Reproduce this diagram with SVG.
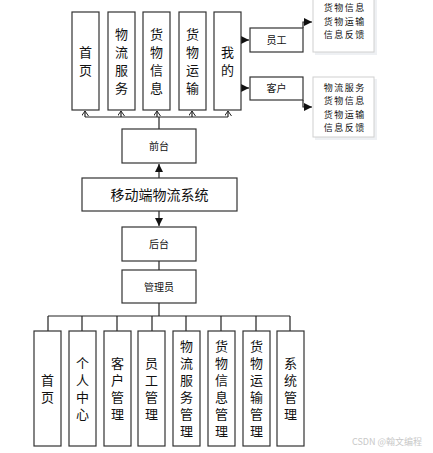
<svg xmlns="http://www.w3.org/2000/svg" width="433" height="453" viewBox="0 0 433 453">
<defs>
<style>
.box{fill:#fff;stroke:#333;stroke-width:1.2}
.info{fill:#fff;stroke:#d0d0d0;stroke-width:1}
.sh{fill:#eef0f3;stroke:none}
.ln{fill:none;stroke:#222;stroke-width:1.2}
.t{font-family:"Noto Sans CJK SC","Liberation Sans",sans-serif;fill:#111;text-anchor:middle}
.vt{font-size:13px;writing-mode:vertical-rl;letter-spacing:5px}
.vb{font-size:13px;writing-mode:vertical-rl;letter-spacing:4px}
.s{font-size:10px}
.i{font-size:9px;letter-spacing:1.5px}
.wm{font-family:"Noto Sans CJK SC","Liberation Sans",sans-serif;font-size:9px;fill:#c8c8c8}
</style>
<marker id="fa" markerUnits="userSpaceOnUse" markerWidth="10" markerHeight="10" refX="8" refY="4" orient="auto">
<path d="M0,0 L8,4 L0,8 Z" fill="#111"/>
</marker>
<marker id="oa" markerUnits="userSpaceOnUse" markerWidth="8" markerHeight="8" refX="5" refY="3.5" orient="auto">
<path d="M0,0 L5,3.5 L0,7" fill="none" stroke="#222" stroke-width="1"/>
</marker>
</defs>
<rect width="433" height="453" fill="#fff"/>

<g id="connectors">
<path class="ln" d="M85,117 H228"/>
<path class="ln" d="M85,117 V111" marker-end="url(#oa)"/>
<path class="ln" d="M121,117 V111" marker-end="url(#oa)"/>
<path class="ln" d="M157,117 V111" marker-end="url(#oa)"/>
<path class="ln" d="M192,117 V111" marker-end="url(#oa)"/>
<path class="ln" d="M228,117 V111" marker-end="url(#oa)"/>
<path class="ln" d="M159,117 V129"/>
<path class="ln" d="M159,178 V164" marker-end="url(#fa)"/>
<path class="ln" d="M159,211 V226" marker-end="url(#fa)"/>
<path class="ln" d="M159,261 V270"/>
<path class="ln" d="M159,303 V316"/>
<path class="ln" d="M48,316 H290"/>
<path class="ln" d="M48,316 V331 M82,316 V331 M117,316 V331 M152,316 V331 M186,316 V331 M221,316 V331 M256,316 V331 M290,316 V331"/>
<path class="ln" d="M241,40 H249" marker-end="url(#fa)"/>
<path class="ln" d="M241,88 H249" marker-end="url(#fa)"/>
<path class="ln" d="M303,28 V22 H312" marker-end="url(#fa)"/>
<path class="ln" d="M303,100 V107 H312" marker-end="url(#fa)"/>
</g>

<g id="top-home"><rect class="box" x="72" y="12" width="27" height="98"/>
<text class="t vt" x="85.5" y="63.5">首页</text></g>
<g id="top-service"><rect class="box" x="108" y="12" width="27" height="98"/>
<text class="t vt" x="121.5" y="63.5">物流服务</text></g>
<g id="top-goods"><rect class="box" x="143" y="12" width="27" height="98"/>
<text class="t vt" x="156.5" y="63.5">货物信息</text></g>
<g id="top-transport"><rect class="box" x="179" y="12" width="27" height="98"/>
<text class="t vt" x="192.5" y="63.5">货物运输</text></g>
<g id="top-mine"><rect class="box" x="214" y="12" width="27" height="98"/>
<text class="t vt" x="227.5" y="63.5">我的</text></g>

<g id="employee"><rect class="box" x="250" y="28" width="53" height="24"/>
<text class="t s" x="276.5" y="44">员工</text></g>
<g id="customer"><rect class="box" x="250" y="77" width="53" height="23"/>
<text class="t s" x="276.5" y="92">客户</text></g>

<g id="employee-info"><rect class="sh" x="315" y="-4" width="62" height="59"/><rect class="info" x="313" y="-6" width="61" height="58"/>
<text class="t i"><tspan x="344.7" y="11">货物信息</tspan><tspan x="344.7" y="24.6">货物运输</tspan><tspan x="344.7" y="38.2">信息反馈</tspan></text></g>
<g id="customer-info"><rect class="sh" x="315" y="79" width="62" height="61"/><rect class="info" x="313" y="77" width="61" height="60"/>
<text class="t i"><tspan x="344.7" y="90.5">物流服务</tspan><tspan x="344.7" y="104">货物信息</tspan><tspan x="344.7" y="117.5">货物运输</tspan><tspan x="344.7" y="131">信息反馈</tspan></text></g>

<g id="frontend"><rect class="box" x="122" y="129" width="74" height="34"/>
<text class="t s" x="159" y="150">前台</text></g>
<g id="system"><rect class="box" x="82" y="178" width="155" height="33"/>
<text class="t" style="font-size:14px" x="159.5" y="199.5">移动端物流系统</text></g>
<g id="backend"><rect class="box" x="122" y="227" width="74" height="34"/>
<text class="t s" x="159" y="248">后台</text></g>
<g id="admin"><rect class="box" x="122" y="270" width="74" height="33"/>
<text class="t s" x="159" y="290.5">管理员</text></g>

<g id="b-home"><rect class="box" x="34" y="331" width="27" height="115"/>
<text class="t vb" x="47.5" y="390.5">首页</text></g>
<g id="b-center"><rect class="box" x="69" y="331" width="27" height="115"/>
<text class="t vb" x="82.5" y="390.5">个人中心</text></g>
<g id="b-customer"><rect class="box" x="104" y="331" width="27" height="115"/>
<text class="t vb" x="117.5" y="390.5">客户管理</text></g>
<g id="b-employee"><rect class="box" x="138" y="331" width="27" height="115"/>
<text class="t vb" x="151.5" y="390.5">员工管理</text></g>
<g id="b-service"><rect class="box" x="173" y="331" width="27" height="115"/>
<text class="t vb" x="186.5" y="390.5">物流服务管理</text></g>
<g id="b-goods"><rect class="box" x="208" y="331" width="27" height="115"/>
<text class="t vb" x="221.5" y="390.5">货物信息管理</text></g>
<g id="b-transport"><rect class="box" x="243" y="331" width="27" height="115"/>
<text class="t vb" x="256.5" y="390.5">货物运输管理</text></g>
<g id="b-system"><rect class="box" x="277" y="331" width="27" height="115"/>
<text class="t vb" x="290.5" y="390.5">系统管理</text></g>

<text class="wm" x="352" y="445">CSDN @翰文编程</text>
</svg>
